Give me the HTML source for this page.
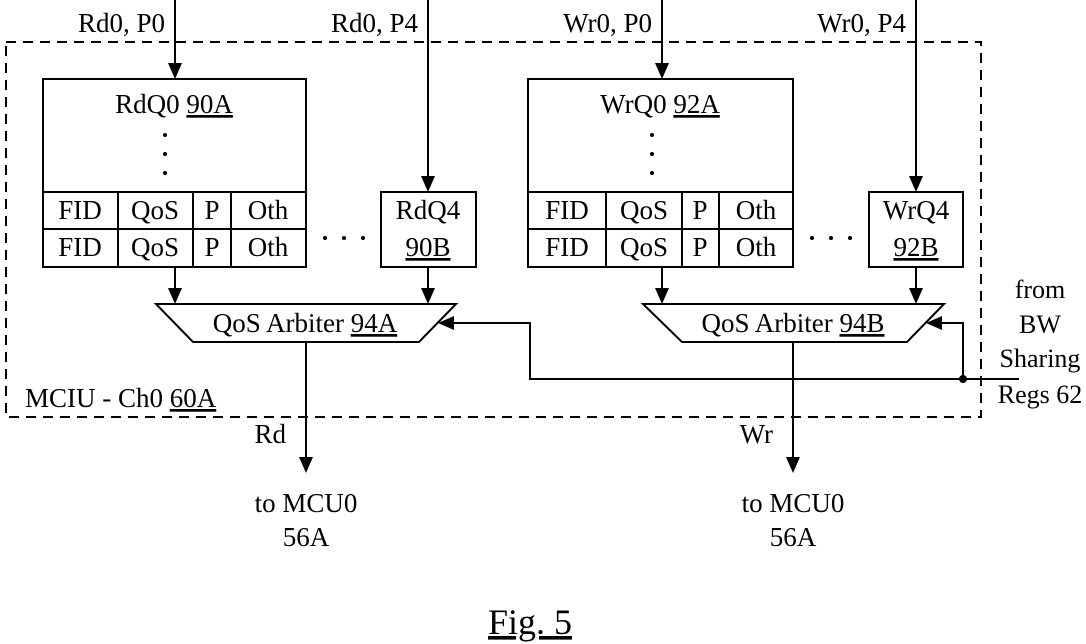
<!DOCTYPE html>
<html><head><meta charset="utf-8"><style>body{margin:0;background:#fff}svg{display:block}text{font-family:"Liberation Serif",serif;fill:#000}</style></head><body>
<svg width="1086" height="644" viewBox="0 0 1086 644" xmlns="http://www.w3.org/2000/svg">
<g stroke="#000" stroke-width="2" fill="none">
<rect x="6" y="42" width="975" height="375" stroke-dasharray="10,7"/>
<rect x="43" y="79" width="263" height="188"/>
<line x1="43" y1="192" x2="306" y2="192"/><line x1="43" y1="229" x2="306" y2="229"/>
<line x1="118" y1="192" x2="118" y2="267"/><line x1="193" y1="192" x2="193" y2="267"/><line x1="231" y1="192" x2="231" y2="267"/>
<rect x="381" y="192" width="95" height="75"/>
<rect x="528" y="79" width="265" height="188"/>
<line x1="528" y1="192" x2="793" y2="192"/><line x1="528" y1="229" x2="793" y2="229"/>
<line x1="606" y1="192" x2="606" y2="267"/><line x1="682" y1="192" x2="682" y2="267"/><line x1="719" y1="192" x2="719" y2="267"/>
<rect x="869" y="192" width="94" height="75"/>
<path d="M156,304 L456,304 L419,342 L193,342 Z"/>
<path d="M643,304 L944,304 L907,342 L682,342 Z"/>
<line x1="175" y1="0" x2="175" y2="67"/>
<line x1="428" y1="0" x2="428" y2="180"/>
<line x1="662" y1="0" x2="662" y2="67"/>
<line x1="916" y1="0" x2="916" y2="180"/>
<line x1="175" y1="267" x2="175" y2="292"/>
<line x1="428" y1="267" x2="428" y2="292"/>
<line x1="662" y1="267" x2="662" y2="292"/>
<line x1="916" y1="267" x2="916" y2="292"/>
<line x1="306" y1="342" x2="306" y2="461"/>
<line x1="793" y1="342" x2="793" y2="461"/>
<path d="M1019,379 L530,379 L530,323 L452,323"/>
<path d="M963,379 L963,323 L940,323"/>
</g>
<g fill="#000">
<path d="M168,63 L182,63 L175,79 Z"/><path d="M421,176 L435,176 L428,192 Z"/>
<path d="M655,63 L669,63 L662,79 Z"/><path d="M909,176 L923,176 L916,192 Z"/>
<path d="M168,288 L182,288 L175,304 Z"/><path d="M421,288 L435,288 L428,304 Z"/>
<path d="M655,288 L669,288 L662,304 Z"/><path d="M909,288 L923,288 L916,304 Z"/>
<path d="M299,457 L313,457 L306,473 Z"/><path d="M786,457 L800,457 L793,473 Z"/>
<path d="M438,323 L454,316 L454,330 Z"/><path d="M926,323 L942,316 L942,330 Z"/>
<circle cx="963" cy="379" r="4"/>
<circle cx="165" cy="135" r="2"/><circle cx="165" cy="154" r="2"/><circle cx="165" cy="173" r="2"/>
<circle cx="652" cy="135" r="2"/><circle cx="652" cy="154" r="2"/><circle cx="652" cy="173" r="2"/>
<circle cx="325" cy="238" r="2"/><circle cx="344" cy="238" r="2"/><circle cx="363" cy="238" r="2"/>
<circle cx="812" cy="238" r="2"/><circle cx="831" cy="238" r="2"/><circle cx="850" cy="238" r="2"/>
</g>
<g font-size="27">
<text x="165" y="32" text-anchor="end">Rd0, P0</text>
<text x="418" y="32" text-anchor="end">Rd0, P4</text>
<text x="652" y="32" text-anchor="end">Wr0, P0</text>
<text x="906" y="32" text-anchor="end">Wr0, P4</text>
<text x="174" y="113" text-anchor="middle">RdQ0 <tspan text-decoration="underline">90A</tspan></text>
<text x="660" y="113" text-anchor="middle">WrQ0 <tspan text-decoration="underline">92A</tspan></text>
<text x="80" y="219" text-anchor="middle">FID</text><text x="155" y="219" text-anchor="middle">QoS</text><text x="212" y="219" text-anchor="middle">P</text><text x="268" y="219" text-anchor="middle">Oth</text>
<text x="80" y="256" text-anchor="middle">FID</text><text x="155" y="256" text-anchor="middle">QoS</text><text x="212" y="256" text-anchor="middle">P</text><text x="268" y="256" text-anchor="middle">Oth</text>
<text x="567" y="219" text-anchor="middle">FID</text><text x="644" y="219" text-anchor="middle">QoS</text><text x="700" y="219" text-anchor="middle">P</text><text x="756" y="219" text-anchor="middle">Oth</text>
<text x="567" y="256" text-anchor="middle">FID</text><text x="644" y="256" text-anchor="middle">QoS</text><text x="700" y="256" text-anchor="middle">P</text><text x="756" y="256" text-anchor="middle">Oth</text>
<text x="428" y="219" text-anchor="middle">RdQ4</text><text x="428" y="256" text-anchor="middle" text-decoration="underline">90B</text>
<text x="916" y="219" text-anchor="middle">WrQ4</text><text x="916" y="256" text-anchor="middle" text-decoration="underline">92B</text>
<text x="305" y="332" text-anchor="middle">QoS Arbiter <tspan text-decoration="underline">94A</tspan></text>
<text x="793" y="332" text-anchor="middle">QoS Arbiter <tspan text-decoration="underline">94B</tspan></text>
<text x="25" y="407">MCIU - Ch0 <tspan text-decoration="underline">60A</tspan></text>
<text x="286" y="443" text-anchor="end">Rd</text>
<text x="773" y="443" text-anchor="end">Wr</text>
<text x="306" y="512" text-anchor="middle">to MCU0</text><text x="306" y="546" text-anchor="middle">56A</text>
<text x="793" y="512" text-anchor="middle">to MCU0</text><text x="793" y="546" text-anchor="middle">56A</text>
</g>
<g font-size="26">
<text x="1040" y="298" text-anchor="middle">from</text>
<text x="1040" y="333" text-anchor="middle">BW</text>
<text x="1040" y="367" text-anchor="middle">Sharing</text>
<text x="1040" y="403" text-anchor="middle">Regs 62</text>
</g>
<text x="530" y="634" font-size="36" text-anchor="middle" text-decoration="underline">Fig. 5</text>
</svg>
</body></html>
